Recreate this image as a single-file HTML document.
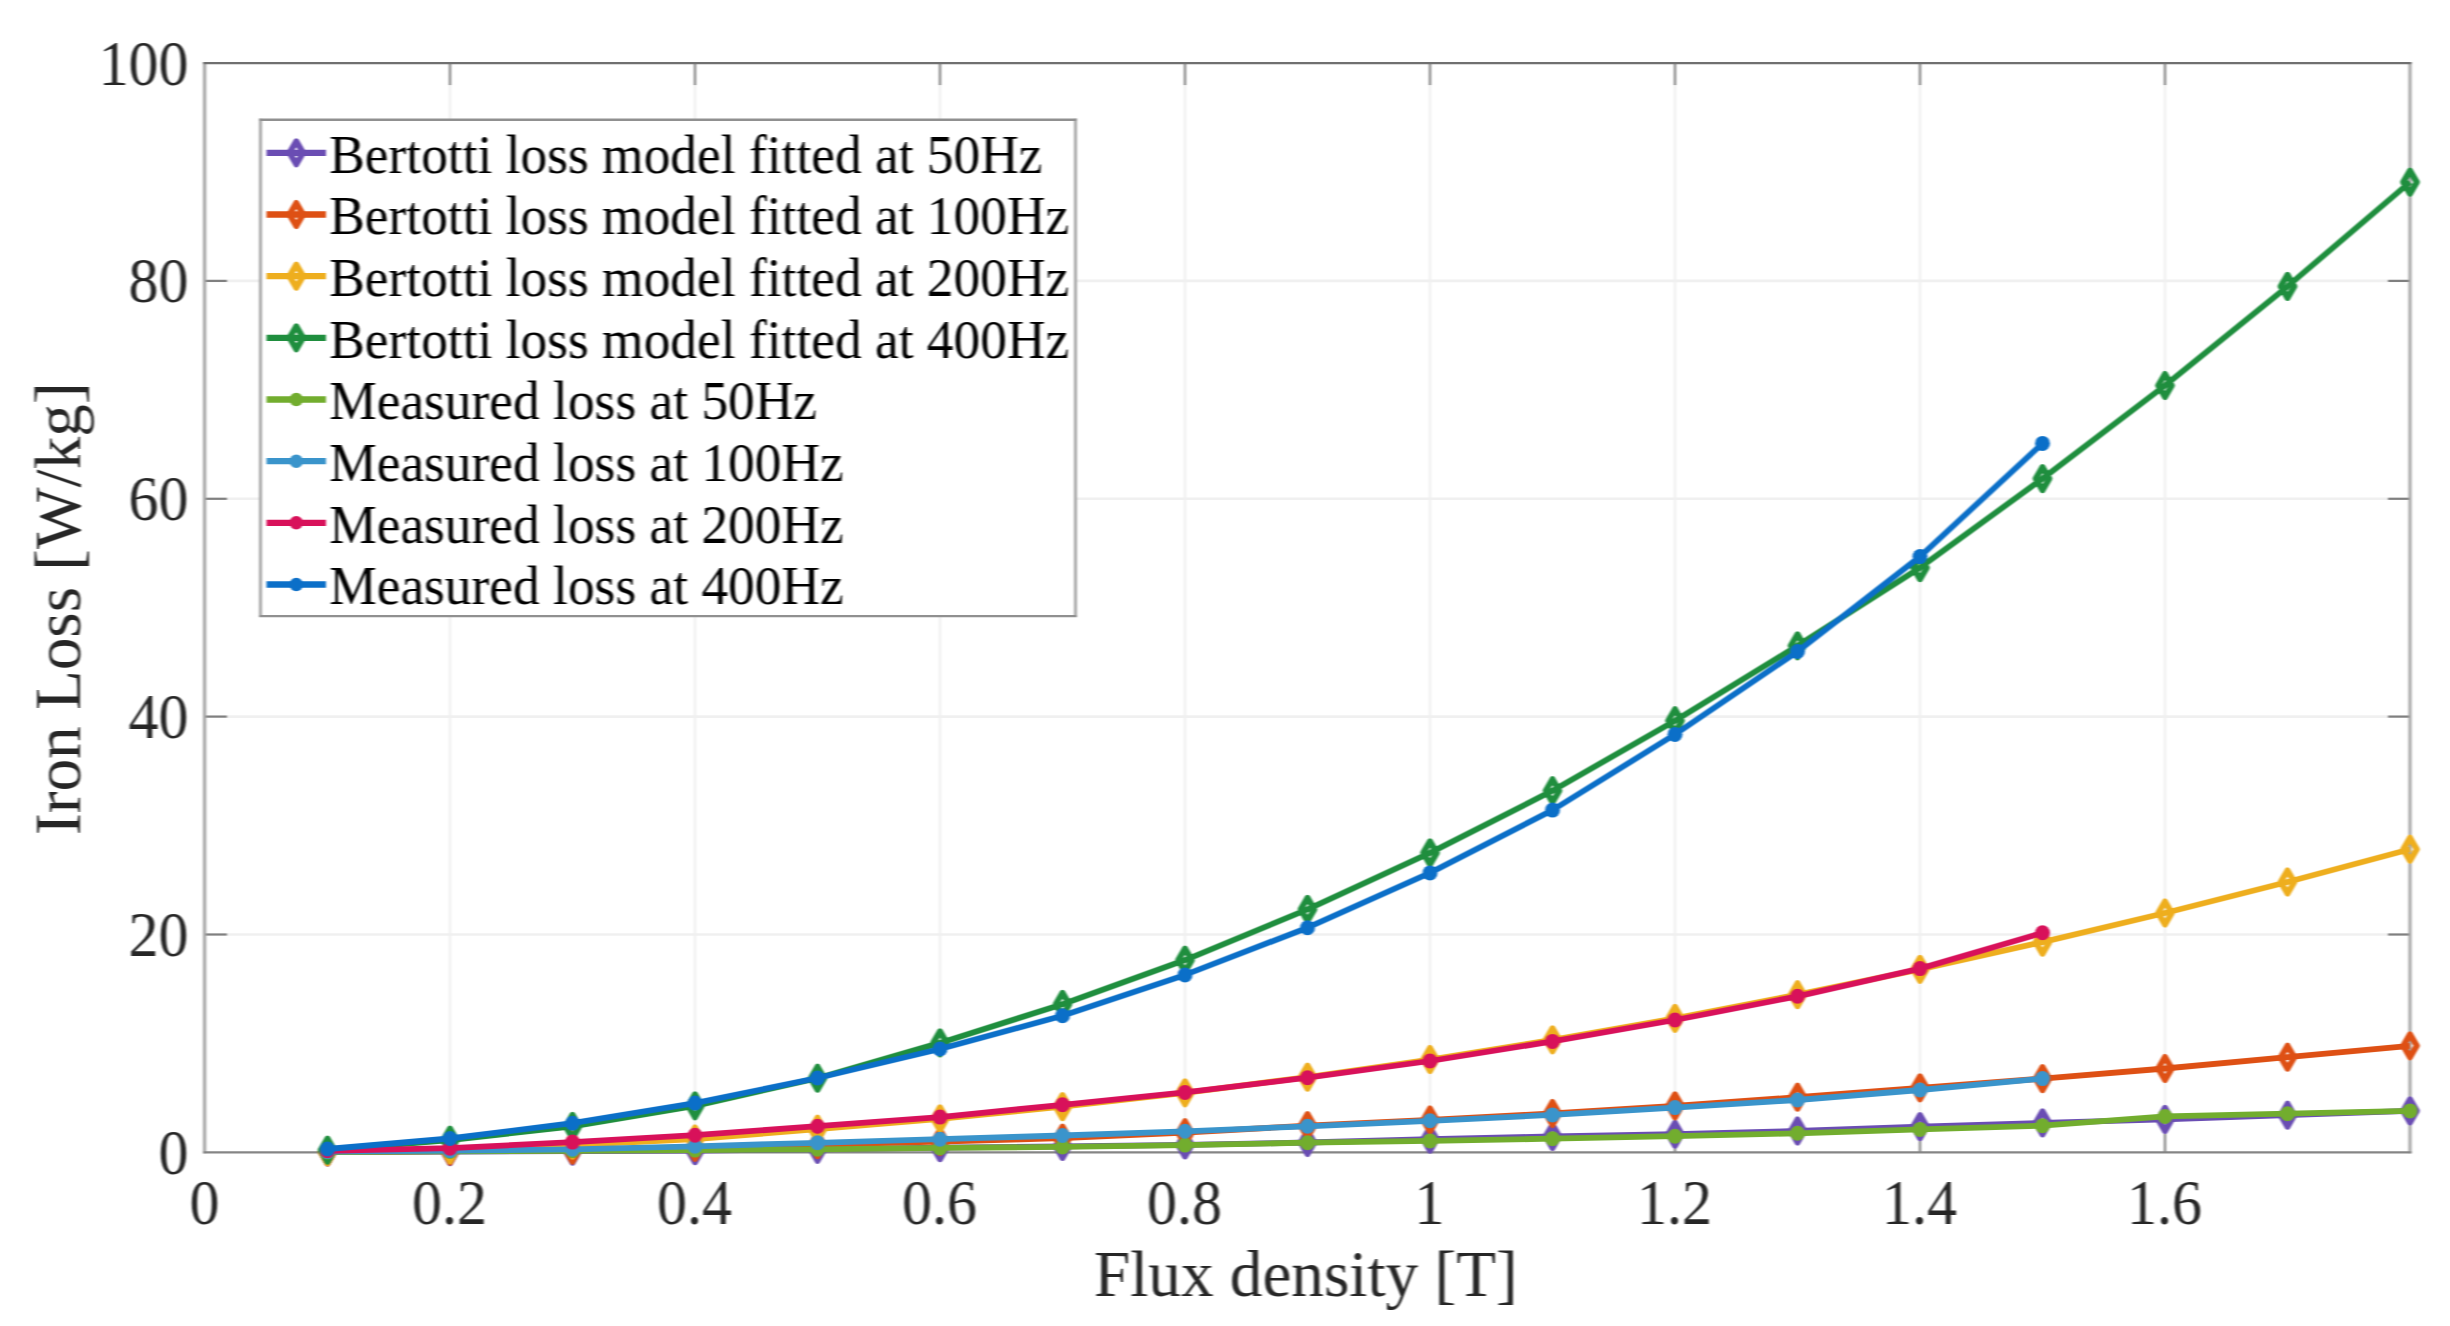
<!DOCTYPE html>
<html lang="en">
<head>
<meta charset="utf-8">
<title>Iron loss versus flux density</title>
<style>
html,body{margin:0;padding:0;background:#fff;}
body{width:2450px;height:1326px;overflow:hidden;}
svg{display:block;}
text{font-family:"Liberation Serif",serif;}
.tick{font-size:60px;fill:#262626;}
.lab{font-size:66px;fill:#262626;}
.leg{font-size:53.4px;fill:#000;}
</style>
</head>
<body>
<svg width="2450" height="1326" viewBox="0 0 2450 1326">
<defs><filter id="soft" x="0" y="0" width="2450" height="1326" filterUnits="userSpaceOnUse" color-interpolation-filters="sRGB"><feGaussianBlur stdDeviation="0.9 0.45"/></filter></defs>
<rect x="0" y="0" width="2450" height="1326" fill="#ffffff"/>
<g filter="url(#soft)">
<rect x="0" y="0" width="2450" height="1326" fill="#ffffff"/>

<g stroke="#f0f0f0" stroke-width="2.6" fill="none">
<line x1="450.0" y1="63.1" x2="450.0" y2="1152.3"/>
<line x1="695.0" y1="63.1" x2="695.0" y2="1152.3"/>
<line x1="940.0" y1="63.1" x2="940.0" y2="1152.3"/>
<line x1="1185.0" y1="63.1" x2="1185.0" y2="1152.3"/>
<line x1="1430.0" y1="63.1" x2="1430.0" y2="1152.3"/>
<line x1="1675.0" y1="63.1" x2="1675.0" y2="1152.3"/>
<line x1="1920.0" y1="63.1" x2="1920.0" y2="1152.3"/>
<line x1="2165.0" y1="63.1" x2="2165.0" y2="1152.3"/>
<line x1="205.0" y1="934.5" x2="2410.0" y2="934.5"/>
<line x1="205.0" y1="716.6" x2="2410.0" y2="716.6"/>
<line x1="205.0" y1="498.8" x2="2410.0" y2="498.8"/>
<line x1="205.0" y1="280.9" x2="2410.0" y2="280.9"/>
</g>
<g fill="none">
<g stroke="#808080" stroke-width="2.2">
<line x1="450.0" y1="1152.3" x2="450.0" y2="1130.3"/>
<line x1="450.0" y1="63.1" x2="450.0" y2="85.1"/>
<line x1="695.0" y1="1152.3" x2="695.0" y2="1130.3"/>
<line x1="695.0" y1="63.1" x2="695.0" y2="85.1"/>
<line x1="940.0" y1="1152.3" x2="940.0" y2="1130.3"/>
<line x1="940.0" y1="63.1" x2="940.0" y2="85.1"/>
<line x1="1185.0" y1="1152.3" x2="1185.0" y2="1130.3"/>
<line x1="1185.0" y1="63.1" x2="1185.0" y2="85.1"/>
<line x1="1430.0" y1="1152.3" x2="1430.0" y2="1130.3"/>
<line x1="1430.0" y1="63.1" x2="1430.0" y2="85.1"/>
<line x1="1675.0" y1="1152.3" x2="1675.0" y2="1130.3"/>
<line x1="1675.0" y1="63.1" x2="1675.0" y2="85.1"/>
<line x1="1920.0" y1="1152.3" x2="1920.0" y2="1130.3"/>
<line x1="1920.0" y1="63.1" x2="1920.0" y2="85.1"/>
<line x1="2165.0" y1="1152.3" x2="2165.0" y2="1130.3"/>
<line x1="2165.0" y1="63.1" x2="2165.0" y2="85.1"/>
<line x1="205.0" y1="934.5" x2="227.0" y2="934.5"/>
<line x1="2410.0" y1="934.5" x2="2388.0" y2="934.5"/>
<line x1="205.0" y1="716.6" x2="227.0" y2="716.6"/>
<line x1="2410.0" y1="716.6" x2="2388.0" y2="716.6"/>
<line x1="205.0" y1="498.8" x2="227.0" y2="498.8"/>
<line x1="2410.0" y1="498.8" x2="2388.0" y2="498.8"/>
<line x1="205.0" y1="280.9" x2="227.0" y2="280.9"/>
<line x1="2410.0" y1="280.9" x2="2388.0" y2="280.9"/>
</g>
<line x1="204.6" y1="62.1" x2="204.6" y2="1153.3" stroke="#a8a8a8" stroke-width="3.3"/>
<line x1="2410" y1="62.1" x2="2410" y2="1153.3" stroke="#a6a6a6" stroke-width="3.1"/>
<line x1="203" y1="63.1" x2="2411.5" y2="63.1" stroke="#707070" stroke-width="2.2"/>
<line x1="203" y1="1152.3" x2="2411.5" y2="1152.3" stroke="#858585" stroke-width="2.2"/>
</g>
<g class="tick" text-anchor="middle">
<text transform="translate(204.5 1224.3) scale(1 1.05)">0</text>
<text transform="translate(449.5 1224.3) scale(1 1.05)">0.2</text>
<text transform="translate(694.5 1224.3) scale(1 1.05)">0.4</text>
<text transform="translate(939.5 1224.3) scale(1 1.05)">0.6</text>
<text transform="translate(1184.5 1224.3) scale(1 1.05)">0.8</text>
<text transform="translate(1429.5 1224.3) scale(1 1.05)">1</text>
<text transform="translate(1674.5 1224.3) scale(1 1.05)">1.2</text>
<text transform="translate(1919.5 1224.3) scale(1 1.05)">1.4</text>
<text transform="translate(2164.5 1224.3) scale(1 1.05)">1.6</text>
</g>
<g class="tick" text-anchor="end">
<text transform="translate(188.6 1173.8) scale(1 1.05)">0</text>
<text transform="translate(188.6 956.0) scale(1 1.05)">20</text>
<text transform="translate(188.6 738.1) scale(1 1.05)">40</text>
<text transform="translate(188.6 520.3) scale(1 1.05)">60</text>
<text transform="translate(188.6 302.4) scale(1 1.05)">80</text>
<text transform="translate(188.6 84.6) scale(1 1.05)">100</text>
</g>
<text class="lab" text-anchor="middle" transform="translate(1305.8 1296) scale(0.988 1)">Flux density [T]</text>
<text class="lab" text-anchor="middle" transform="translate(80 608.7) rotate(-90) scale(0.988 1)">Iron Loss [W/kg]</text>
<g>
<path d="M327.5 1152.0L450.0 1151.6L572.5 1151.2L695.0 1150.6L817.5 1149.3L940.0 1147.7L1062.5 1146.4L1185.0 1144.9L1307.5 1142.5L1430.0 1139.2L1552.5 1136.4L1675.0 1134.2L1797.5 1131.0L1920.0 1126.6L2042.5 1122.9L2165.0 1119.4L2287.5 1115.2L2410.0 1110.9" fill="none" stroke="#6a4db3" stroke-width="5.8" stroke-linejoin="round" stroke-linecap="butt"/>
<path d="M327.5 1140.5L334.3 1152.0L327.5 1163.5L320.7 1152.0Z" fill="none" stroke="#6a4db3" stroke-width="6.0" stroke-linejoin="round"/>
<path d="M450.0 1140.1L456.8 1151.6L450.0 1163.1L443.2 1151.6Z" fill="none" stroke="#6a4db3" stroke-width="6.0" stroke-linejoin="round"/>
<path d="M572.5 1139.7L579.3 1151.2L572.5 1162.7L565.7 1151.2Z" fill="none" stroke="#6a4db3" stroke-width="6.0" stroke-linejoin="round"/>
<path d="M695.0 1139.1L701.8 1150.6L695.0 1162.1L688.2 1150.6Z" fill="none" stroke="#6a4db3" stroke-width="6.0" stroke-linejoin="round"/>
<path d="M817.5 1137.8L824.3 1149.3L817.5 1160.8L810.7 1149.3Z" fill="none" stroke="#6a4db3" stroke-width="6.0" stroke-linejoin="round"/>
<path d="M940.0 1136.2L946.8 1147.7L940.0 1159.2L933.2 1147.7Z" fill="none" stroke="#6a4db3" stroke-width="6.0" stroke-linejoin="round"/>
<path d="M1062.5 1134.9L1069.3 1146.4L1062.5 1157.9L1055.7 1146.4Z" fill="none" stroke="#6a4db3" stroke-width="6.0" stroke-linejoin="round"/>
<path d="M1185.0 1133.4L1191.8 1144.9L1185.0 1156.4L1178.2 1144.9Z" fill="none" stroke="#6a4db3" stroke-width="6.0" stroke-linejoin="round"/>
<path d="M1307.5 1131.0L1314.3 1142.5L1307.5 1154.0L1300.7 1142.5Z" fill="none" stroke="#6a4db3" stroke-width="6.0" stroke-linejoin="round"/>
<path d="M1430.0 1127.7L1436.8 1139.2L1430.0 1150.7L1423.2 1139.2Z" fill="none" stroke="#6a4db3" stroke-width="6.0" stroke-linejoin="round"/>
<path d="M1552.5 1124.9L1559.3 1136.4L1552.5 1147.9L1545.7 1136.4Z" fill="none" stroke="#6a4db3" stroke-width="6.0" stroke-linejoin="round"/>
<path d="M1675.0 1122.7L1681.8 1134.2L1675.0 1145.7L1668.2 1134.2Z" fill="none" stroke="#6a4db3" stroke-width="6.0" stroke-linejoin="round"/>
<path d="M1797.5 1119.5L1804.3 1131.0L1797.5 1142.5L1790.7 1131.0Z" fill="none" stroke="#6a4db3" stroke-width="6.0" stroke-linejoin="round"/>
<path d="M1920.0 1115.1L1926.8 1126.6L1920.0 1138.1L1913.2 1126.6Z" fill="none" stroke="#6a4db3" stroke-width="6.0" stroke-linejoin="round"/>
<path d="M2042.5 1111.4L2049.3 1122.9L2042.5 1134.4L2035.7 1122.9Z" fill="none" stroke="#6a4db3" stroke-width="6.0" stroke-linejoin="round"/>
<path d="M2165.0 1107.9L2171.8 1119.4L2165.0 1130.9L2158.2 1119.4Z" fill="none" stroke="#6a4db3" stroke-width="6.0" stroke-linejoin="round"/>
<path d="M2287.5 1103.7L2294.3 1115.2L2287.5 1126.7L2280.7 1115.2Z" fill="none" stroke="#6a4db3" stroke-width="6.0" stroke-linejoin="round"/>
<path d="M2410.0 1099.4L2416.8 1110.9L2410.0 1122.4L2403.2 1110.9Z" fill="none" stroke="#6a4db3" stroke-width="6.0" stroke-linejoin="round"/>
</g>
<g>
<path d="M327.5 1151.9L450.0 1151.2L572.5 1150.1L695.0 1147.3L817.5 1144.7L940.0 1141.6L1062.5 1138.1L1185.0 1132.7L1307.5 1125.6L1430.0 1120.0L1552.5 1113.5L1675.0 1105.9L1797.5 1097.2L1920.0 1087.8L2042.5 1078.6L2165.0 1068.5L2287.5 1057.2L2410.0 1045.8" fill="none" stroke="#de5014" stroke-width="5.8" stroke-linejoin="round" stroke-linecap="butt"/>
<path d="M327.5 1140.4L334.3 1151.9L327.5 1163.4L320.7 1151.9Z" fill="none" stroke="#de5014" stroke-width="6.0" stroke-linejoin="round"/>
<path d="M450.0 1139.7L456.8 1151.2L450.0 1162.7L443.2 1151.2Z" fill="none" stroke="#de5014" stroke-width="6.0" stroke-linejoin="round"/>
<path d="M572.5 1138.6L579.3 1150.1L572.5 1161.6L565.7 1150.1Z" fill="none" stroke="#de5014" stroke-width="6.0" stroke-linejoin="round"/>
<path d="M695.0 1135.8L701.8 1147.3L695.0 1158.8L688.2 1147.3Z" fill="none" stroke="#de5014" stroke-width="6.0" stroke-linejoin="round"/>
<path d="M817.5 1133.2L824.3 1144.7L817.5 1156.2L810.7 1144.7Z" fill="none" stroke="#de5014" stroke-width="6.0" stroke-linejoin="round"/>
<path d="M940.0 1130.1L946.8 1141.6L940.0 1153.1L933.2 1141.6Z" fill="none" stroke="#de5014" stroke-width="6.0" stroke-linejoin="round"/>
<path d="M1062.5 1126.6L1069.3 1138.1L1062.5 1149.6L1055.7 1138.1Z" fill="none" stroke="#de5014" stroke-width="6.0" stroke-linejoin="round"/>
<path d="M1185.0 1121.2L1191.8 1132.7L1185.0 1144.2L1178.2 1132.7Z" fill="none" stroke="#de5014" stroke-width="6.0" stroke-linejoin="round"/>
<path d="M1307.5 1114.1L1314.3 1125.6L1307.5 1137.1L1300.7 1125.6Z" fill="none" stroke="#de5014" stroke-width="6.0" stroke-linejoin="round"/>
<path d="M1430.0 1108.5L1436.8 1120.0L1430.0 1131.5L1423.2 1120.0Z" fill="none" stroke="#de5014" stroke-width="6.0" stroke-linejoin="round"/>
<path d="M1552.5 1102.0L1559.3 1113.5L1552.5 1125.0L1545.7 1113.5Z" fill="none" stroke="#de5014" stroke-width="6.0" stroke-linejoin="round"/>
<path d="M1675.0 1094.4L1681.8 1105.9L1675.0 1117.4L1668.2 1105.9Z" fill="none" stroke="#de5014" stroke-width="6.0" stroke-linejoin="round"/>
<path d="M1797.5 1085.7L1804.3 1097.2L1797.5 1108.7L1790.7 1097.2Z" fill="none" stroke="#de5014" stroke-width="6.0" stroke-linejoin="round"/>
<path d="M1920.0 1076.3L1926.8 1087.8L1920.0 1099.3L1913.2 1087.8Z" fill="none" stroke="#de5014" stroke-width="6.0" stroke-linejoin="round"/>
<path d="M2042.5 1067.1L2049.3 1078.6L2042.5 1090.1L2035.7 1078.6Z" fill="none" stroke="#de5014" stroke-width="6.0" stroke-linejoin="round"/>
<path d="M2165.0 1057.0L2171.8 1068.5L2165.0 1080.0L2158.2 1068.5Z" fill="none" stroke="#de5014" stroke-width="6.0" stroke-linejoin="round"/>
<path d="M2287.5 1045.7L2294.3 1057.2L2287.5 1068.7L2280.7 1057.2Z" fill="none" stroke="#de5014" stroke-width="6.0" stroke-linejoin="round"/>
<path d="M2410.0 1034.3L2416.8 1045.8L2410.0 1057.3L2403.2 1045.8Z" fill="none" stroke="#de5014" stroke-width="6.0" stroke-linejoin="round"/>
</g>
<g>
<path d="M327.5 1151.6L450.0 1149.9L572.5 1145.2L695.0 1139.0L817.5 1129.2L940.0 1118.8L1062.5 1106.6L1185.0 1092.8L1307.5 1077.1L1430.0 1059.5L1552.5 1039.8L1675.0 1018.3L1797.5 994.7L1920.0 969.3L2042.5 942.1L2165.0 913.0L2287.5 882.0L2410.0 849.2" fill="none" stroke="#eeae1e" stroke-width="5.8" stroke-linejoin="round" stroke-linecap="butt"/>
<path d="M327.5 1140.1L334.3 1151.6L327.5 1163.1L320.7 1151.6Z" fill="none" stroke="#eeae1e" stroke-width="6.0" stroke-linejoin="round"/>
<path d="M450.0 1138.4L456.8 1149.9L450.0 1161.4L443.2 1149.9Z" fill="none" stroke="#eeae1e" stroke-width="6.0" stroke-linejoin="round"/>
<path d="M572.5 1133.7L579.3 1145.2L572.5 1156.7L565.7 1145.2Z" fill="none" stroke="#eeae1e" stroke-width="6.0" stroke-linejoin="round"/>
<path d="M695.0 1127.5L701.8 1139.0L695.0 1150.5L688.2 1139.0Z" fill="none" stroke="#eeae1e" stroke-width="6.0" stroke-linejoin="round"/>
<path d="M817.5 1117.7L824.3 1129.2L817.5 1140.7L810.7 1129.2Z" fill="none" stroke="#eeae1e" stroke-width="6.0" stroke-linejoin="round"/>
<path d="M940.0 1107.3L946.8 1118.8L940.0 1130.3L933.2 1118.8Z" fill="none" stroke="#eeae1e" stroke-width="6.0" stroke-linejoin="round"/>
<path d="M1062.5 1095.1L1069.3 1106.6L1062.5 1118.1L1055.7 1106.6Z" fill="none" stroke="#eeae1e" stroke-width="6.0" stroke-linejoin="round"/>
<path d="M1185.0 1081.3L1191.8 1092.8L1185.0 1104.3L1178.2 1092.8Z" fill="none" stroke="#eeae1e" stroke-width="6.0" stroke-linejoin="round"/>
<path d="M1307.5 1065.6L1314.3 1077.1L1307.5 1088.6L1300.7 1077.1Z" fill="none" stroke="#eeae1e" stroke-width="6.0" stroke-linejoin="round"/>
<path d="M1430.0 1048.0L1436.8 1059.5L1430.0 1071.0L1423.2 1059.5Z" fill="none" stroke="#eeae1e" stroke-width="6.0" stroke-linejoin="round"/>
<path d="M1552.5 1028.3L1559.3 1039.8L1552.5 1051.3L1545.7 1039.8Z" fill="none" stroke="#eeae1e" stroke-width="6.0" stroke-linejoin="round"/>
<path d="M1675.0 1006.8L1681.8 1018.3L1675.0 1029.8L1668.2 1018.3Z" fill="none" stroke="#eeae1e" stroke-width="6.0" stroke-linejoin="round"/>
<path d="M1797.5 983.2L1804.3 994.7L1797.5 1006.2L1790.7 994.7Z" fill="none" stroke="#eeae1e" stroke-width="6.0" stroke-linejoin="round"/>
<path d="M1920.0 957.8L1926.8 969.3L1920.0 980.8L1913.2 969.3Z" fill="none" stroke="#eeae1e" stroke-width="6.0" stroke-linejoin="round"/>
<path d="M2042.5 930.6L2049.3 942.1L2042.5 953.6L2035.7 942.1Z" fill="none" stroke="#eeae1e" stroke-width="6.0" stroke-linejoin="round"/>
<path d="M2165.0 901.5L2171.8 913.0L2165.0 924.5L2158.2 913.0Z" fill="none" stroke="#eeae1e" stroke-width="6.0" stroke-linejoin="round"/>
<path d="M2287.5 870.5L2294.3 882.0L2287.5 893.5L2280.7 882.0Z" fill="none" stroke="#eeae1e" stroke-width="6.0" stroke-linejoin="round"/>
<path d="M2410.0 837.7L2416.8 849.2L2410.0 860.7L2403.2 849.2Z" fill="none" stroke="#eeae1e" stroke-width="6.0" stroke-linejoin="round"/>
</g>
<g>
<path d="M327.5 1150.1L450.0 1140.1L572.5 1126.4L695.0 1105.8L817.5 1078.2L940.0 1042.9L1062.5 1004.3L1185.0 960.1L1307.5 909.4L1430.0 852.9L1552.5 790.7L1675.0 720.7L1797.5 645.8L1920.0 567.7L2042.5 478.6L2165.0 385.5L2287.5 286.4L2410.0 182.1" fill="none" stroke="#1f8e3e" stroke-width="5.8" stroke-linejoin="round" stroke-linecap="butt"/>
<path d="M327.5 1138.6L334.3 1150.1L327.5 1161.6L320.7 1150.1Z" fill="none" stroke="#1f8e3e" stroke-width="6.0" stroke-linejoin="round"/>
<path d="M450.0 1128.6L456.8 1140.1L450.0 1151.6L443.2 1140.1Z" fill="none" stroke="#1f8e3e" stroke-width="6.0" stroke-linejoin="round"/>
<path d="M572.5 1114.9L579.3 1126.4L572.5 1137.9L565.7 1126.4Z" fill="none" stroke="#1f8e3e" stroke-width="6.0" stroke-linejoin="round"/>
<path d="M695.0 1094.3L701.8 1105.8L695.0 1117.3L688.2 1105.8Z" fill="none" stroke="#1f8e3e" stroke-width="6.0" stroke-linejoin="round"/>
<path d="M817.5 1066.7L824.3 1078.2L817.5 1089.7L810.7 1078.2Z" fill="none" stroke="#1f8e3e" stroke-width="6.0" stroke-linejoin="round"/>
<path d="M940.0 1031.4L946.8 1042.9L940.0 1054.4L933.2 1042.9Z" fill="none" stroke="#1f8e3e" stroke-width="6.0" stroke-linejoin="round"/>
<path d="M1062.5 992.8L1069.3 1004.3L1062.5 1015.8L1055.7 1004.3Z" fill="none" stroke="#1f8e3e" stroke-width="6.0" stroke-linejoin="round"/>
<path d="M1185.0 948.6L1191.8 960.1L1185.0 971.6L1178.2 960.1Z" fill="none" stroke="#1f8e3e" stroke-width="6.0" stroke-linejoin="round"/>
<path d="M1307.5 897.9L1314.3 909.4L1307.5 920.9L1300.7 909.4Z" fill="none" stroke="#1f8e3e" stroke-width="6.0" stroke-linejoin="round"/>
<path d="M1430.0 841.4L1436.8 852.9L1430.0 864.4L1423.2 852.9Z" fill="none" stroke="#1f8e3e" stroke-width="6.0" stroke-linejoin="round"/>
<path d="M1552.5 779.2L1559.3 790.7L1552.5 802.2L1545.7 790.7Z" fill="none" stroke="#1f8e3e" stroke-width="6.0" stroke-linejoin="round"/>
<path d="M1675.0 709.2L1681.8 720.7L1675.0 732.2L1668.2 720.7Z" fill="none" stroke="#1f8e3e" stroke-width="6.0" stroke-linejoin="round"/>
<path d="M1797.5 634.3L1804.3 645.8L1797.5 657.3L1790.7 645.8Z" fill="none" stroke="#1f8e3e" stroke-width="6.0" stroke-linejoin="round"/>
<path d="M1920.0 556.2L1926.8 567.7L1920.0 579.2L1913.2 567.7Z" fill="none" stroke="#1f8e3e" stroke-width="6.0" stroke-linejoin="round"/>
<path d="M2042.5 467.1L2049.3 478.6L2042.5 490.1L2035.7 478.6Z" fill="none" stroke="#1f8e3e" stroke-width="6.0" stroke-linejoin="round"/>
<path d="M2165.0 374.0L2171.8 385.5L2165.0 397.0L2158.2 385.5Z" fill="none" stroke="#1f8e3e" stroke-width="6.0" stroke-linejoin="round"/>
<path d="M2287.5 274.9L2294.3 286.4L2287.5 297.9L2280.7 286.4Z" fill="none" stroke="#1f8e3e" stroke-width="6.0" stroke-linejoin="round"/>
<path d="M2410.0 170.6L2416.8 182.1L2410.0 193.6L2403.2 182.1Z" fill="none" stroke="#1f8e3e" stroke-width="6.0" stroke-linejoin="round"/>
</g>
<g>
<path d="M327.5 1152.0L450.0 1151.4L572.5 1150.8L695.0 1150.1L817.5 1149.3L940.0 1147.9L1062.5 1146.9L1185.0 1145.1L1307.5 1142.7L1430.0 1140.9L1552.5 1138.7L1675.0 1136.2L1797.5 1133.3L1920.0 1129.4L2042.5 1125.7L2165.0 1116.4L2287.5 1113.7L2410.0 1110.9" fill="none" stroke="#72ad2e" stroke-width="5.8" stroke-linejoin="round" stroke-linecap="butt"/>
<circle cx="327.5" cy="1152.0" r="7.5" fill="#72ad2e"/>
<circle cx="450.0" cy="1151.4" r="7.5" fill="#72ad2e"/>
<circle cx="572.5" cy="1150.8" r="7.5" fill="#72ad2e"/>
<circle cx="695.0" cy="1150.1" r="7.5" fill="#72ad2e"/>
<circle cx="817.5" cy="1149.3" r="7.5" fill="#72ad2e"/>
<circle cx="940.0" cy="1147.9" r="7.5" fill="#72ad2e"/>
<circle cx="1062.5" cy="1146.9" r="7.5" fill="#72ad2e"/>
<circle cx="1185.0" cy="1145.1" r="7.5" fill="#72ad2e"/>
<circle cx="1307.5" cy="1142.7" r="7.5" fill="#72ad2e"/>
<circle cx="1430.0" cy="1140.9" r="7.5" fill="#72ad2e"/>
<circle cx="1552.5" cy="1138.7" r="7.5" fill="#72ad2e"/>
<circle cx="1675.0" cy="1136.2" r="7.5" fill="#72ad2e"/>
<circle cx="1797.5" cy="1133.3" r="7.5" fill="#72ad2e"/>
<circle cx="1920.0" cy="1129.4" r="7.5" fill="#72ad2e"/>
<circle cx="2042.5" cy="1125.7" r="7.5" fill="#72ad2e"/>
<circle cx="2165.0" cy="1116.4" r="7.5" fill="#72ad2e"/>
<circle cx="2287.5" cy="1113.7" r="7.5" fill="#72ad2e"/>
<circle cx="2410.0" cy="1110.9" r="7.5" fill="#72ad2e"/>
</g>
<g>
<path d="M327.5 1151.6L450.0 1150.7L572.5 1149.3L695.0 1146.3L817.5 1142.8L940.0 1139.2L1062.5 1135.5L1185.0 1131.3L1307.5 1126.3L1430.0 1120.8L1552.5 1114.9L1675.0 1107.6L1797.5 1100.0L1920.0 1090.0L2042.5 1078.6" fill="none" stroke="#3a94cb" stroke-width="5.8" stroke-linejoin="round" stroke-linecap="butt"/>
<circle cx="327.5" cy="1151.6" r="7.5" fill="#3a94cb"/>
<circle cx="450.0" cy="1150.7" r="7.5" fill="#3a94cb"/>
<circle cx="572.5" cy="1149.3" r="7.5" fill="#3a94cb"/>
<circle cx="695.0" cy="1146.3" r="7.5" fill="#3a94cb"/>
<circle cx="817.5" cy="1142.8" r="7.5" fill="#3a94cb"/>
<circle cx="940.0" cy="1139.2" r="7.5" fill="#3a94cb"/>
<circle cx="1062.5" cy="1135.5" r="7.5" fill="#3a94cb"/>
<circle cx="1185.0" cy="1131.3" r="7.5" fill="#3a94cb"/>
<circle cx="1307.5" cy="1126.3" r="7.5" fill="#3a94cb"/>
<circle cx="1430.0" cy="1120.8" r="7.5" fill="#3a94cb"/>
<circle cx="1552.5" cy="1114.9" r="7.5" fill="#3a94cb"/>
<circle cx="1675.0" cy="1107.6" r="7.5" fill="#3a94cb"/>
<circle cx="1797.5" cy="1100.0" r="7.5" fill="#3a94cb"/>
<circle cx="1920.0" cy="1090.0" r="7.5" fill="#3a94cb"/>
<circle cx="2042.5" cy="1078.6" r="7.5" fill="#3a94cb"/>
</g>
<g>
<path d="M327.5 1150.8L450.0 1148.2L572.5 1142.1L695.0 1135.2L817.5 1126.2L940.0 1117.1L1062.5 1104.8L1185.0 1092.4L1307.5 1077.7L1430.0 1061.0L1552.5 1041.4L1675.0 1020.0L1797.5 996.3L1920.0 968.6L2042.5 932.8" fill="none" stroke="#d8115a" stroke-width="5.8" stroke-linejoin="round" stroke-linecap="butt"/>
<circle cx="327.5" cy="1150.8" r="7.5" fill="#d8115a"/>
<circle cx="450.0" cy="1148.2" r="7.5" fill="#d8115a"/>
<circle cx="572.5" cy="1142.1" r="7.5" fill="#d8115a"/>
<circle cx="695.0" cy="1135.2" r="7.5" fill="#d8115a"/>
<circle cx="817.5" cy="1126.2" r="7.5" fill="#d8115a"/>
<circle cx="940.0" cy="1117.1" r="7.5" fill="#d8115a"/>
<circle cx="1062.5" cy="1104.8" r="7.5" fill="#d8115a"/>
<circle cx="1185.0" cy="1092.4" r="7.5" fill="#d8115a"/>
<circle cx="1307.5" cy="1077.7" r="7.5" fill="#d8115a"/>
<circle cx="1430.0" cy="1061.0" r="7.5" fill="#d8115a"/>
<circle cx="1552.5" cy="1041.4" r="7.5" fill="#d8115a"/>
<circle cx="1675.0" cy="1020.0" r="7.5" fill="#d8115a"/>
<circle cx="1797.5" cy="996.3" r="7.5" fill="#d8115a"/>
<circle cx="1920.0" cy="968.6" r="7.5" fill="#d8115a"/>
<circle cx="2042.5" cy="932.8" r="7.5" fill="#d8115a"/>
</g>
<g>
<path d="M327.5 1149.0L450.0 1138.5L572.5 1123.2L695.0 1103.1L817.5 1078.0L940.0 1049.0L1062.5 1015.7L1185.0 974.9L1307.5 927.7L1430.0 872.9L1552.5 810.1L1675.0 734.4L1797.5 651.5L1920.0 556.6L2042.5 443.4" fill="none" stroke="#0b6fc8" stroke-width="5.8" stroke-linejoin="round" stroke-linecap="butt"/>
<circle cx="327.5" cy="1149.0" r="7.5" fill="#0b6fc8"/>
<circle cx="450.0" cy="1138.5" r="7.5" fill="#0b6fc8"/>
<circle cx="572.5" cy="1123.2" r="7.5" fill="#0b6fc8"/>
<circle cx="695.0" cy="1103.1" r="7.5" fill="#0b6fc8"/>
<circle cx="817.5" cy="1078.0" r="7.5" fill="#0b6fc8"/>
<circle cx="940.0" cy="1049.0" r="7.5" fill="#0b6fc8"/>
<circle cx="1062.5" cy="1015.7" r="7.5" fill="#0b6fc8"/>
<circle cx="1185.0" cy="974.9" r="7.5" fill="#0b6fc8"/>
<circle cx="1307.5" cy="927.7" r="7.5" fill="#0b6fc8"/>
<circle cx="1430.0" cy="872.9" r="7.5" fill="#0b6fc8"/>
<circle cx="1552.5" cy="810.1" r="7.5" fill="#0b6fc8"/>
<circle cx="1675.0" cy="734.4" r="7.5" fill="#0b6fc8"/>
<circle cx="1797.5" cy="651.5" r="7.5" fill="#0b6fc8"/>
<circle cx="1920.0" cy="556.6" r="7.5" fill="#0b6fc8"/>
<circle cx="2042.5" cy="443.4" r="7.5" fill="#0b6fc8"/>
</g>
<rect x="260.5" y="119.8" width="815.0" height="496.3" fill="#ffffff"/>
<line x1="260.5" y1="118.8" x2="260.5" y2="617.1" stroke="#a8a8a8" stroke-width="3.1"/>
<line x1="1075.5" y1="118.8" x2="1075.5" y2="617.1" stroke="#a8a8a8" stroke-width="3.0"/>
<line x1="259.0" y1="119.8" x2="1077.0" y2="119.8" stroke="#909090" stroke-width="2.4"/>
<line x1="259.0" y1="616.1" x2="1077.0" y2="616.1" stroke="#909090" stroke-width="2.4"/>
<line x1="266.5" y1="152.8" x2="326" y2="152.8" stroke="#6a4db3" stroke-width="6.3"/>
<path d="M296.3 141.3L303.1 152.8L296.3 164.3L289.5 152.8Z" fill="none" stroke="#6a4db3" stroke-width="6.0" stroke-linejoin="round"/>
<text class="leg" transform="translate(329.2 172.5) scale(1 1.045)">Bertotti loss model fitted at 50Hz</text>
<line x1="266.5" y1="214.5" x2="326" y2="214.5" stroke="#de5014" stroke-width="6.3"/>
<path d="M296.3 203.0L303.1 214.5L296.3 226.0L289.5 214.5Z" fill="none" stroke="#de5014" stroke-width="6.0" stroke-linejoin="round"/>
<text class="leg" transform="translate(329.2 234.2) scale(1 1.045)">Bertotti loss model fitted at 100Hz</text>
<line x1="266.5" y1="276.1" x2="326" y2="276.1" stroke="#eeae1e" stroke-width="6.3"/>
<path d="M296.3 264.6L303.1 276.1L296.3 287.6L289.5 276.1Z" fill="none" stroke="#eeae1e" stroke-width="6.0" stroke-linejoin="round"/>
<text class="leg" transform="translate(329.2 295.8) scale(1 1.045)">Bertotti loss model fitted at 200Hz</text>
<line x1="266.5" y1="337.8" x2="326" y2="337.8" stroke="#1f8e3e" stroke-width="6.3"/>
<path d="M296.3 326.3L303.1 337.8L296.3 349.3L289.5 337.8Z" fill="none" stroke="#1f8e3e" stroke-width="6.0" stroke-linejoin="round"/>
<text class="leg" transform="translate(329.2 357.5) scale(1 1.045)">Bertotti loss model fitted at 400Hz</text>
<line x1="266.5" y1="399.5" x2="326" y2="399.5" stroke="#72ad2e" stroke-width="6.3"/>
<circle cx="296.3" cy="399.5" r="6.8" fill="#72ad2e"/>
<text class="leg" transform="translate(329.2 419.2) scale(1 1.045)">Measured loss at 50Hz</text>
<line x1="266.5" y1="461.2" x2="326" y2="461.2" stroke="#3a94cb" stroke-width="6.3"/>
<circle cx="296.3" cy="461.2" r="6.8" fill="#3a94cb"/>
<text class="leg" transform="translate(329.2 480.9) scale(1 1.045)">Measured loss at 100Hz</text>
<line x1="266.5" y1="522.8" x2="326" y2="522.8" stroke="#d8115a" stroke-width="6.3"/>
<circle cx="296.3" cy="522.8" r="6.8" fill="#d8115a"/>
<text class="leg" transform="translate(329.2 542.5) scale(1 1.045)">Measured loss at 200Hz</text>
<line x1="266.5" y1="584.5" x2="326" y2="584.5" stroke="#0b6fc8" stroke-width="6.3"/>
<circle cx="296.3" cy="584.5" r="6.8" fill="#0b6fc8"/>
<text class="leg" transform="translate(329.2 604.2) scale(1 1.045)">Measured loss at 400Hz</text>
</g>
</svg>
</body>
</html>
